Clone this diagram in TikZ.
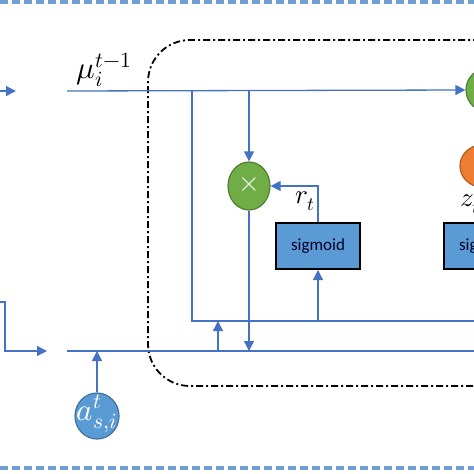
\documentclass[tikz,border=0pt]{standalone}
\usepackage{fontspec}
\usepackage{unicode-math}
\setmathfont{Latin Modern Math}
\newfontfamily\carlito{Carlito}
\usetikzlibrary{arrows.meta,shapes.geometric}
\definecolor{lnblue}{HTML}{4472C4}
\definecolor{boxblue}{HTML}{5B9BD5}
\definecolor{boxedge}{HTML}{41719C}
\definecolor{gfill}{HTML}{70AD47}
\definecolor{gedge}{HTML}{507E32}
\definecolor{ofill}{HTML}{ED7D31}
\definecolor{oedge}{HTML}{AE5A21}
\definecolor{dashblue}{HTML}{6F9FD3}
\tikzset{
  flow/.style={draw=lnblue, line width=1.3pt},
  arr/.style={flow, -{Triangle[length=10pt,width=10pt]}},
  gcirc/.style={ellipse, fill=gfill, draw=gedge, line width=1.2pt, inner sep=0pt},
  ocirc/.style={ellipse, fill=ofill, draw=oedge, line width=1.2pt, inner sep=0pt},
  sigbox/.style={rectangle, fill=boxblue, draw=black, line width=2pt, minimum width=84pt, minimum height=46pt, inner sep=0pt, font=\carlito\fontsize{17}{20}\selectfont, text=black!85!blue},
  frame/.style={draw=black, line width=1.8pt, dash pattern=on 7pt off 3pt on 2pt off 3pt},
  sep/.style={draw=dashblue, line width=3.5pt, dash pattern=on 8pt off 4pt},
}
\begin{document}
\begin{tikzpicture}[x=1pt,y=-1pt]
\useasboundingbox (0,0) rectangle (474,474);
% separators
\draw[sep] (0,2) -- (474,2);
\draw[sep] (0,468) -- (474,468);
% dash-dot frame
\draw[frame, rounded corners=42pt] (480,40) -- (148,40) -- (148,386) -- (480,386);
% nodes
\node[gcirc, minimum width=44pt, minimum height=44pt] (g1) at (488,90) {};
\node[ocirc, minimum width=44pt, minimum height=42pt] (o1) at (482,166) {};
\node[gcirc, minimum width=42pt, minimum height=48pt] (mult) at (249,186) {};
\node[text=white, font=\fontsize{28}{28}\selectfont, inner sep=0pt] (multx) at (249,185) {$\times$};
\node[sigbox] (sig1) at (318,246) {sigmoid};
\node[sigbox] (sig2) at (486,246) {sigmoid};
\node[ellipse, fill=boxblue, draw=boxedge, line width=1.2pt, minimum width=44pt, minimum height=46pt, inner sep=0pt] (a) at (97,416) {};
\node[text=white, font=\fontsize{31}{31}\selectfont, inner sep=0pt] (alab) at (97,414) {$a^{t}_{s,i}$};
\node[font=\fontsize{31}{31}\selectfont, inner sep=0pt] (mu) at (104,70) {$\mu_i^{t-1}$};
\node[font=\fontsize{27}{27}\selectfont, inner sep=0pt] (rt) at (305,201) {$r_t$};
\node[font=\fontsize{27}{27}\selectfont, inner sep=0pt] (zt) at (470,204) {$z_t$};
% coordinates
\coordinate (tl0) at (0,91);
\coordinate (tl1) at (16,91);
\coordinate (top0) at (67,91);
\coordinate (bot0) at (67,351);
\coordinate (bot1) at (474,351);
\coordinate (mid1) at (474,321);
\coordinate (lv0) at (192,91);
\coordinate (lv1) at (192,321);
\coordinate (mx0) at (249,91);
\coordinate (mx1) at (249,351);
\coordinate (up1a) at (218,351);
\coordinate (up1b) at (218,321);
\coordinate (up2a) at (318,321);
\coordinate (rtc) at (318,186);
\coordinate (l0) at (0,302);
\coordinate (l1) at (5,302);
\coordinate (l2) at (5,351);
\coordinate (l3) at (47,351);
\coordinate (aup) at (97,351);
% connectors
\draw[arr] (tl0) -- (tl1);
\draw[arr] (top0) -- (g1.west);
\draw[flow] (bot0) -- (bot1);
\draw[flow] (lv0) -- (lv1) -- (mid1);
\draw[arr] (mx0) -- (mult.north);
\draw[arr] (mult.south) -- (mx1);
\draw[arr] (up1a) -- (up1b);
\draw[arr] (up2a) -- (sig1.south);
\draw[arr] (sig1.north) -- (rtc) -- (mult.east);
\draw[arr] (l0) -- (l1) -- (l2) -- (l3);
\draw[arr] (a.north) -- (aup);
\end{tikzpicture}
\end{document}
